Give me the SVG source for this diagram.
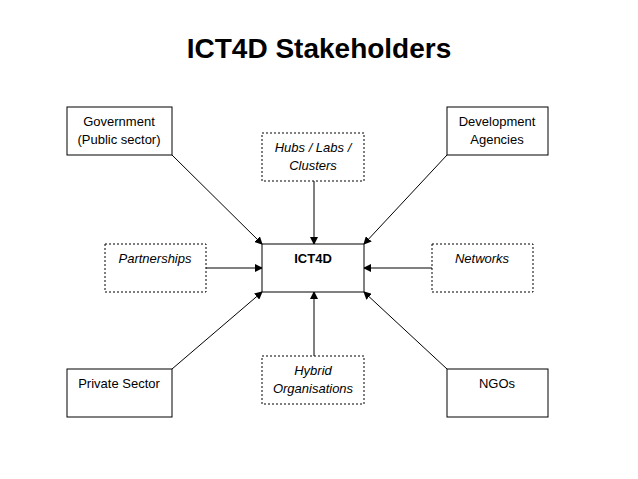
<svg xmlns="http://www.w3.org/2000/svg" width="638" height="479" viewBox="0 0 638 479">
<style>
.b{fill:#fff;stroke:#000;stroke-width:1}
.d{fill:#fff;stroke:#000;stroke-width:1;stroke-dasharray:2,2}
text{font-family:"Liberation Sans",Arial,sans-serif;font-size:13px;text-anchor:middle;fill:#000}
.i{font-style:italic}
.c{stroke:#000;stroke-width:1;fill:none;marker-end:url(#a)}
</style>
<defs><marker id="a" markerWidth="8" markerHeight="8" refX="7" refY="4" orient="auto" markerUnits="userSpaceOnUse"><path d="M0,0L8,4L0,8z" fill="#000"/></marker></defs>
<rect width="638" height="479" fill="#fff"/>
<text x="319" y="58" style="font-size:28px;font-weight:bold">ICT4D Stakeholders</text>
<g id="connectors">
<line class="c" x1="172" y1="155" x2="262" y2="244"/>
<line class="c" x1="447" y1="155" x2="364" y2="244"/>
<line class="c" x1="314" y1="181" x2="314" y2="244"/>
<line class="c" x1="206" y1="268" x2="262" y2="268"/>
<line class="c" x1="432" y1="268" x2="364" y2="268"/>
<line class="c" x1="314" y1="356" x2="314" y2="292"/>
<line class="c" x1="172" y1="369" x2="262" y2="292"/>
<line class="c" x1="447" y1="369" x2="364" y2="292"/>
</g>
<g id="gov"><rect class="b" x="67" y="107" width="105" height="48"/><text x="119" y="126">Government</text><text x="119" y="144">(Public sector)</text></g>
<g id="dev"><rect class="b" x="447" y="107" width="101" height="48"/><text x="497" y="126">Development</text><text x="497" y="144">Agencies</text></g>
<g id="hubs"><rect class="d" x="262" y="133" width="102" height="48"/><text class="i" x="313" y="152">Hubs / Labs /</text><text class="i" x="313" y="170">Clusters</text></g>
<g id="ict4d"><rect class="b" x="262" y="244" width="102" height="48"/><text x="313" y="263" font-weight="bold">ICT4D</text></g>
<g id="part"><rect class="d" x="105" y="244" width="101" height="48"/><text class="i" x="155" y="263">Partnerships</text></g>
<g id="net"><rect class="d" x="432" y="244" width="101" height="48"/><text class="i" x="482" y="263">Networks</text></g>
<g id="hybrid"><rect class="d" x="262" y="356" width="102" height="48"/><text class="i" x="313" y="375">Hybrid</text><text class="i" x="313" y="393">Organisations</text></g>
<g id="private"><rect class="b" x="67" y="369" width="105" height="48"/><text x="119" y="388">Private Sector</text></g>
<g id="ngos"><rect class="b" x="447" y="369" width="101" height="48"/><text x="497" y="388">NGOs</text></g>
</svg>
